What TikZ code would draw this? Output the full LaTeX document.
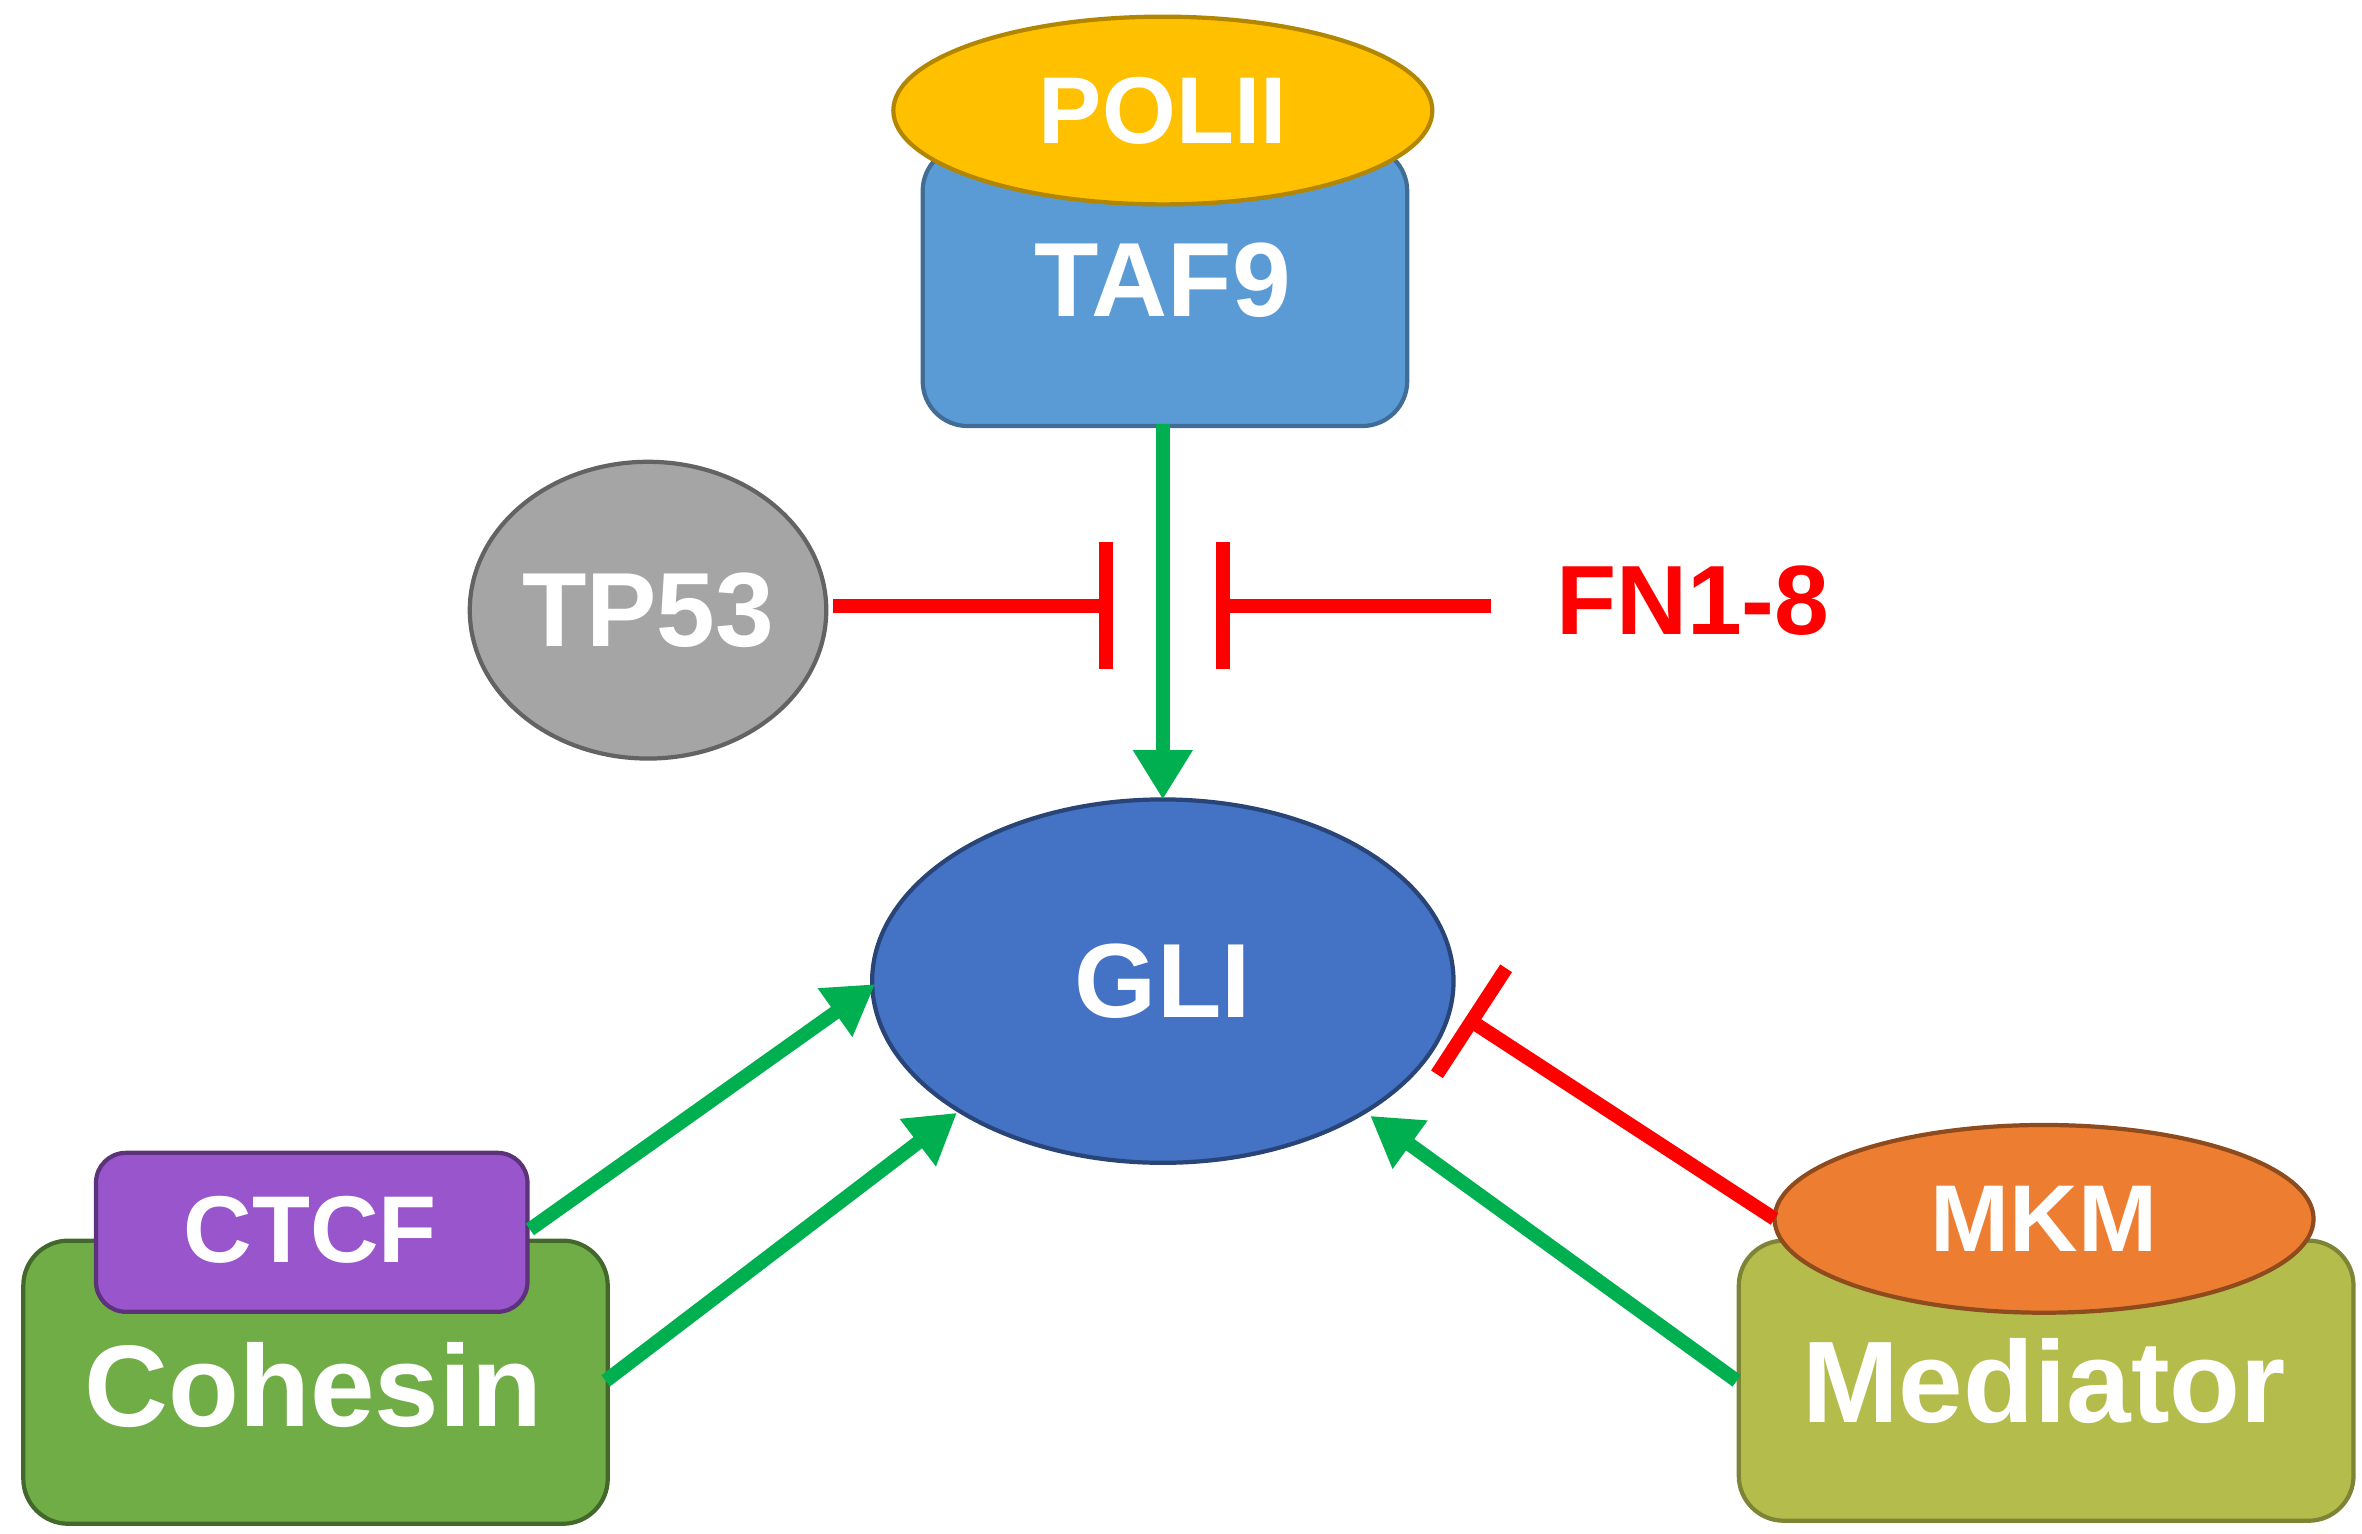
\documentclass[tikz,border=0pt]{standalone}
\usepackage{fontspec}
\setmainfont{Liberation Sans}
\usetikzlibrary{arrows.meta,shapes.geometric}
\definecolor{polii}{HTML}{FFC000}
\definecolor{taf}{HTML}{5B9BD5}
\definecolor{tp}{HTML}{A5A5A5}
\definecolor{gli}{HTML}{4472C4}
\definecolor{coh}{HTML}{70AD47}
\definecolor{ctcf}{HTML}{9955CC}
\definecolor{med}{HTML}{B4BD4C}
\definecolor{mkm}{HTML}{ED7D31}
\definecolor{act}{HTML}{00B050}
\definecolor{inh}{HTML}{FF0000}
\begin{document}
\begin{tikzpicture}[x=0.01514cm,y=-0.01514cm,
  lbl/.style={text=white,font=\bfseries\fontsize{30}{32}\selectfont},
  box/.style={rounded corners=0.45cm,line width=1.2pt,anchor=north west},
  act/.style={draw=act,line width=4pt,-{Triangle[length=14pt,width=16pt]}},
  inh/.style={draw=inh,line width=4pt,-{Bar[width=36pt,line width=4pt]}}]
\useasboundingbox (0,0) rectangle (1560,1012.5);
% top complex
\node[box,fill=taf,draw=taf!70!black,minimum width=320*0.01514cm,minimum height=185*0.01514cm] (taf) at (608,95) {};
\node[lbl] at (768,185) {TAF9};
\node[ellipse,fill=polii,draw=polii!70!black,line width=1.2pt,minimum width=356*0.01514cm,minimum height=124*0.01514cm,lbl,font=\bfseries\fontsize{27}{29}\selectfont] (pol) at (768,73) {POLII};
% GLI
\node[ellipse,fill=gli,draw=gli!60!black,line width=1.2pt,minimum width=384*0.01514cm,minimum height=240*0.01514cm,lbl] (gli) at (768,648) {GLI};
% TP53
\node[ellipse,fill=tp,draw=tp!60!black,line width=1.2pt,minimum width=180*0.01514cm,minimum height=196*0.01514cm,inner sep=0pt,lbl] (tp) at (428,403) {TP53};
\node[text=inh,font=\bfseries\fontsize{28}{30}\selectfont] (fn) at (1118,397) {FN1-8};
% Cohesin / CTCF
\node[box,fill=coh,draw=coh!60!black,minimum width=386*0.01514cm,minimum height=187*0.01514cm] (coh) at (14,818) {};
\node[lbl,font=\bfseries\fontsize{33}{35}\selectfont] at (207,915) {Cohesin};
\node[box,rounded corners=0.3cm,fill=ctcf,draw=ctcf!60!black,minimum width=285*0.01514cm,minimum height=105*0.01514cm] (ctcf) at (62,760) {};
\node[lbl,font=\bfseries\fontsize{27}{29}\selectfont] at (205,812) {CTCF};
% Mediator / MKM
\node[box,fill=med,draw=med!70!black,minimum width=406*0.01514cm,minimum height=185*0.01514cm] (med) at (1147,818) {};
\node[lbl,font=\bfseries\fontsize{33}{35}\selectfont] at (1350,912) {Mediator};
\node[ellipse,fill=mkm,draw=mkm!60!black,line width=1.2pt,minimum width=356*0.01514cm,minimum height=124*0.01514cm,lbl,font=\bfseries\fontsize{27}{29}\selectfont] (mkm) at (1350,805) {MKM};
% connectors
\coordinate (tafb) at (768,280);
\coordinate (glit) at (768,528);
\draw[act] (tafb) -- (glit);
\coordinate (tpr) at (550,400);
\coordinate (tpe) at (735,400);
\coordinate (fnl) at (985,400);
\coordinate (fne) at (803,400);
\draw[inh] (tpr) -- (tpe);
\draw[inh] (fnl) -- (fne);
\coordinate (c1) at (350,812); \coordinate (g1) at (578,650);
\coordinate (c2) at (400,912); \coordinate (g2) at (632,735);
\draw[act] (c1) -- (g1);
\draw[act] (c2) -- (g2);
\coordinate (m1) at (1147,912); \coordinate (g3) at (905,737);
\coordinate (m2) at (1172,805); \coordinate (g4) at (968,672);
\draw[act] (m1) -- (g3);
\draw[inh] (m2) -- (g4);
\end{tikzpicture}
\end{document}
